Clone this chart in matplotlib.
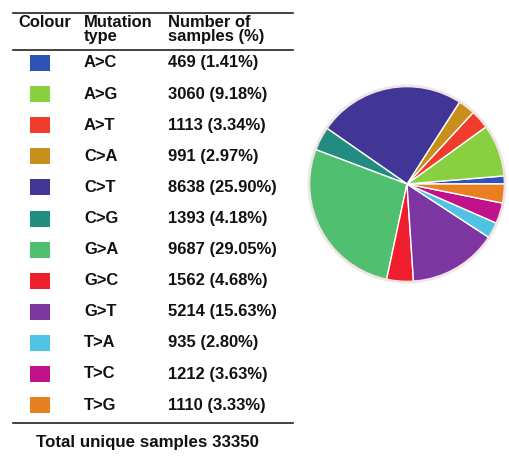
import matplotlib
matplotlib.use("Agg")
import matplotlib.pyplot as plt
from matplotlib.patches import Rectangle
from matplotlib.lines import Line2D

mutation_types = ["A>C", "A>G", "A>T", "C>A", "C>T", "C>G",
                  "G>A", "G>C", "G>T", "T>A", "T>C", "T>G"]
sample_counts = [469, 3060, 1113, 991, 8638, 1393, 9687, 1562, 5214, 935, 1212, 1110]
percentages = ["1.41", "9.18", "3.34", "2.97", "25.90", "4.18",
               "29.05", "4.68", "15.63", "2.80", "3.63", "3.33"]
colours = ["#2F52B8", "#88D040", "#F03C2C", "#C8901A", "#413596", "#238C80",
           "#50C070", "#EE1E2E", "#7D35A2", "#50C2E4", "#C0128A", "#E88022"]
total_samples = 33350

W, H = 510, 458
fig = plt.figure(figsize=(W / 100, H / 100), dpi=100)
fig.patch.set_facecolor("white")
plt.rcParams['font.family'] = ['Liberation Sans', 'DejaVu Sans']

def fy(y):
    return 1 - y / H

def fx(x):
    return x / W

fs = 11.9
kw = dict(fontsize=fs, fontweight='bold', color='#111111')

# rules
for y in (13, 50, 423):
    fig.add_artist(Line2D([fx(13), fx(293)], [fy(y), fy(y)], color='#222222', lw=1.2))

# header
fig.text(fx(18), fy(27), "Colour", va='baseline', ha='left', **kw)
fig.text(fx(84), fy(27), "Mutation", va='baseline', ha='left', **kw)
fig.text(fx(84), fy(41), "type", va='baseline', ha='left', **kw)
fig.text(fx(168), fy(27), "Number of", va='baseline', ha='left', **kw)
fig.text(fx(168), fy(41), "samples (%)", va='baseline', ha='left', **kw)

# rows
y0, step = 63, 31.1
for i, (m, n, p, c) in enumerate(zip(mutation_types, sample_counts, percentages, colours)):
    yc = y0 + i * step
    fig.add_artist(Rectangle((fx(30), fy(yc + 8)), fx(20), 16 / H, facecolor=c,
                             edgecolor='none', transform=fig.transFigure))
    fig.text(fx(84), fy(yc), m, va='center', ha='left', **kw)
    fig.text(fx(168), fy(yc), f"{n} ({p}%)", va='center', ha='left', **kw)

fig.text(fx(36), fy(443), f"Total unique samples {total_samples}", va='center', ha='left',
         fontsize=12.2, fontweight='bold', color='#111111')

# pie
cx, cy, r = 407, 184, 100
ax = fig.add_axes([fx(cx - r), fy(cy + r), 2 * r / W, 2 * r / H])
ax.pie(sample_counts, colors=colours, startangle=0, counterclock=True,
       wedgeprops=dict(edgecolor='white', linewidth=1.0))
ax.add_patch(plt.Circle((0, 0), 1.0, fill=False, edgecolor='#F2E4E4', lw=2))
ax.set_xlim(-1.02, 1.02)
ax.set_ylim(-1.02, 1.02)
ax.set_aspect('equal')
ax.axis('off')

fig.savefig("out.png", dpi=100, facecolor='white')
